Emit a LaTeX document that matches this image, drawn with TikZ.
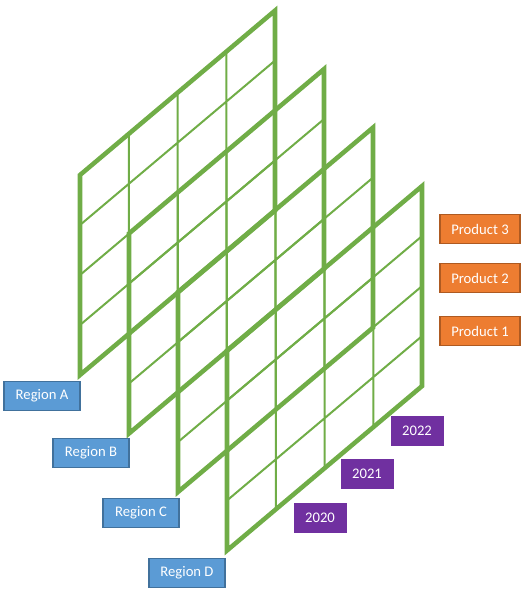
\documentclass[tikz,border=0pt]{standalone}
\usepackage{fontspec}
\setmainfont{Carlito}
\usepackage{xcolor}
\usepackage{tikz}

\definecolor{slabgreen}{HTML}{70AD47}
\definecolor{regionblue}{HTML}{5B9BD5}
\definecolor{regionedge}{HTML}{41719C}
\definecolor{productorange}{HTML}{ED7D31}
\definecolor{productedge}{HTML}{AE5A21}
\definecolor{yearpurple}{HTML}{7030A0}

% one slab of the cube: 4 x 4 cells, bottom-left corner at #1,#2
\newcommand{\cubeslab}[2]{%
  \begin{scope}[cm={48.75,41.1,0,50,(#1,#2)}]
    \draw[slabgreen, line width=1.5pt] (0,0) grid[step=1] (4,4);
    \draw[slabgreen, line width=3.4pt] (0,0) rectangle (4,4);
  \end{scope}}

\begin{document}
\begin{tikzpicture}[x=0.75pt, y=0.75pt,
    regionbox/.style={draw=regionedge, fill=regionblue, text=white, line width=0.8pt,
      minimum width=57pt, minimum height=21.75pt, inner sep=0pt, font=\fontsize{11}{13}\selectfont},
    productbox/.style={draw=productedge, fill=productorange, text=white, line width=0.8pt,
      minimum width=60pt, minimum height=21.75pt, inner sep=0pt, font=\fontsize{11}{13}\selectfont},
    yearbox/.style={fill=yearpurple, text=white,
      minimum width=39.75pt, minimum height=22.5pt, inner sep=0pt, font=\fontsize{11}{13}\selectfont}]
    \useasboundingbox (0,0) rectangle (526,592);
    \cubeslab{80}{217}
    \cubeslab{129}{158.5}
    \cubeslab{178}{100}
    \cubeslab{227}{41.5}
    \node[regionbox] (regA) at (42,196) {Region A};
    \node[regionbox] (regB) at (91,139) {Region B};
    \node[regionbox] (regC) at (141,79) {Region C};
    \node[regionbox] (regD) at (187,19) {Region D};
    \node[productbox] (prod3) at (480,363) {Product 3};
    \node[productbox] (prod2) at (480,314) {Product 2};
    \node[productbox] (prod1) at (480,261) {Product 1};
    \node[yearbox] (yr2022) at (417,161) {2022};
    \node[yearbox] (yr2021) at (367,118) {2021};
    \node[yearbox] (yr2020) at (320,74) {2020};
\end{tikzpicture}
\end{document}
